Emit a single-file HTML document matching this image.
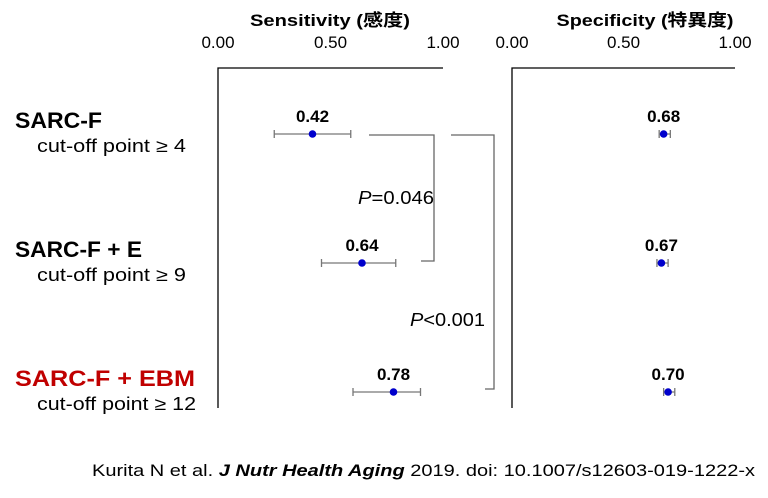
<!DOCTYPE html>
<html><head><meta charset="utf-8"><style>
body{margin:0;background:#fff;width:768px;height:493px;overflow:hidden}
svg text{font-family:"Liberation Sans","Noto Sans CJK JP",sans-serif}
</style></head><body>
<svg id="c" width="768" height="493">
<text x="330" y="26" font-size="17" font-weight="bold" text-anchor="middle" textLength="160" lengthAdjust="spacingAndGlyphs">Sensitivity (感度)</text>
<text x="645" y="26" font-size="17" font-weight="bold" text-anchor="middle" textLength="177" lengthAdjust="spacingAndGlyphs">Specificity (特異度)</text>
<g id="rows"></g>
<g id="marks"></g>
<path d="M369 135H434V261H421" fill="none" stroke="#666" stroke-width="1.3"/>
<path d="M451 135H494V389H485" fill="none" stroke="#666" stroke-width="1.3"/>
<text x="358" y="204" font-size="18" textLength="76" lengthAdjust="spacingAndGlyphs"><tspan font-style="italic">P</tspan>=0.046</text>
<text x="410" y="326" font-size="18" textLength="75" lengthAdjust="spacingAndGlyphs"><tspan font-style="italic">P</tspan>&lt;0.001</text>
<text x="92" y="476" font-size="17" textLength="663" lengthAdjust="spacingAndGlyphs">Kurita N et al. <tspan font-style="italic" font-weight="bold">J Nutr Health Aging</tspan> 2019. doi: 10.1007/s12603-019-1222-x</text>
</svg>
<script>
const groups=["SARC-F","SARC-F + E","SARC-F + EBM"];
const cutoffs=["cut-off point ≥ 4","cut-off point ≥ 9","cut-off point ≥ 12"];
const sens=[0.42,0.64,0.78];
const sensLo=[0.25,0.46,0.60];
const sensHi=[0.59,0.79,0.90];
const spec=[0.68,0.67,0.70];
const specLo=[0.66,0.65,0.68];
const specHi=[0.71,0.70,0.73];
const ticks=["0.00","0.50","1.00"];
const groupW=[87,127,180];
const cutW=[149,149,159];
const NS="http://www.w3.org/2000/svg";
const svg=document.getElementById('c'),marks=document.getElementById('marks'),rows=document.getElementById('rows');
const xL=v=>218+v*225, xR=v=>512+v*223;
const rowY=i=>134+i*129;
function mk(tag,attrs,parent,txt){const e=document.createElementNS(NS,tag);for(const k in attrs)e.setAttribute(k,attrs[k]);if(txt!==undefined)e.textContent=txt;parent.appendChild(e);return e;}
[[xL,'sens'],[xR,'spec']].forEach(([f,n])=>{
 const x0=f(0),x1=f(1);
 const p=mk('path',{d:`M${x1} 68H${x0}V408`,fill:'none',stroke:'#000','stroke-width':1.3},svg);
 
 
 ticks.forEach(t=>{const tx=mk('text',{x:f(parseFloat(t)),y:48,'font-size':17,'text-anchor':'middle'},svg,t);
  
  });
});
groups.forEach((g,i)=>{
 const y=rowY(i);
 const gl=mk('text',{x:15,y:y-6,'font-size':22,'font-weight':'bold',fill:i==2?'#c00000':'#000',textLength:groupW[i],lengthAdjust:'spacingAndGlyphs'},rows,g);
 
 
 const cl=mk('text',{x:37,y:y+18,'font-size':18,textLength:cutW[i],lengthAdjust:'spacingAndGlyphs'},rows,cutoffs[i]);
 
 
 [[xL,sens,sensLo,sensHi,'sens'],[xR,spec,specLo,specHi,'spec']].forEach(([f,v,lo,hi,n])=>{
  const a=f(lo[i]),b=f(hi[i]);
  const ci=mk('path',{d:`M${a} ${y}H${b}M${a} ${y-4}V${y+4}M${b} ${y-4}V${y+4}`,stroke:'#777','stroke-width':1.3,fill:'none'},marks);
  
  
  const pt=mk('circle',{cx:f(v[i]),cy:y,r:3.8,fill:'#0000cc'},marks);
  
  
  const lb=mk('text',{x:f(v[i]),y:y-12,'font-size':17,'font-weight':'bold','text-anchor':'middle'},marks,v[i].toFixed(2));
  
  
 });
});
</script>
</body></html>
